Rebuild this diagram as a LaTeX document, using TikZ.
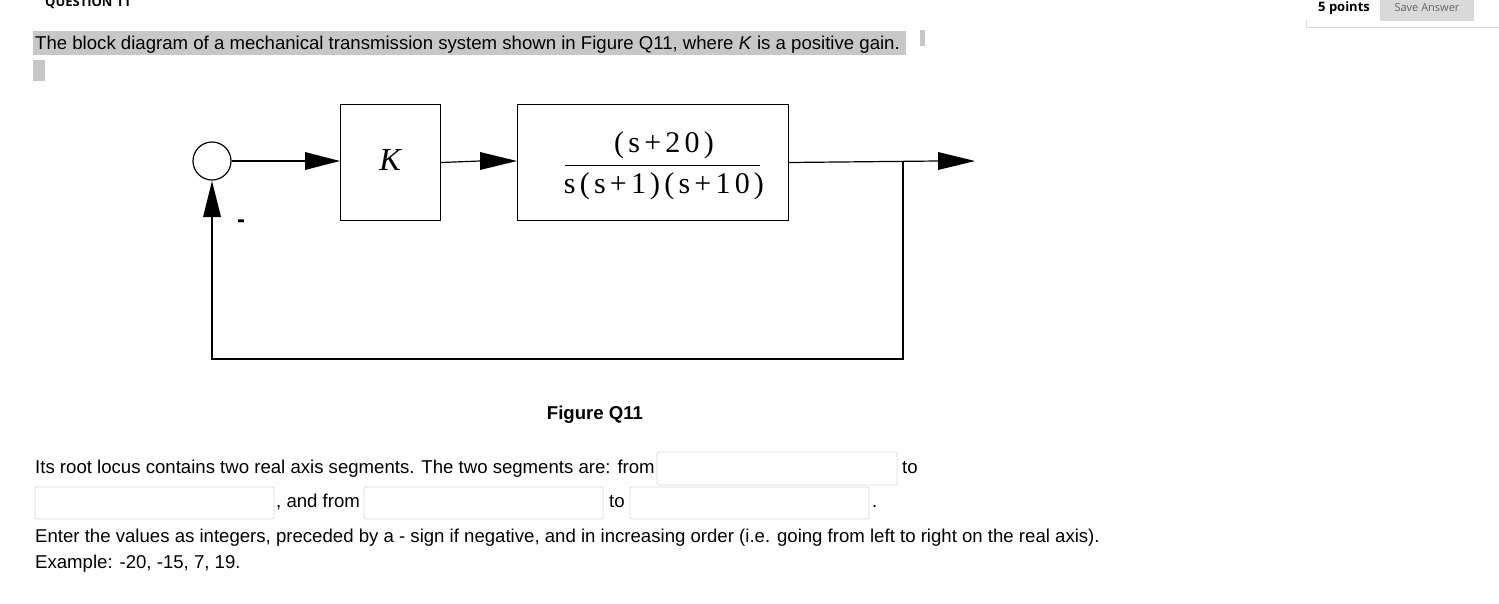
\documentclass[tikz,border=0pt]{standalone}
\usepackage{fontspec}
\setmainfont{Liberation Sans}
\newfontfamily\osans{Open Sans}
\newfontfamily\serifm[LetterSpace=14]{Liberation Serif}
\newfontfamily\serifk{Liberation Serif}
\begin{document}
\begin{tikzpicture}[x=1pt,y=-1pt,
  txt/.style={anchor=base west,inner sep=0pt,font=\fontsize{18.6}{20}\selectfont},
  blk/.style={draw,line width=1pt,anchor=north west,inner sep=0pt},
  inbox/.style={draw=black!15,line width=0.8pt,rounded corners=2pt},
  ln/.style={line width=1.2pt},
  tri/.style={fill=black}]
\useasboundingbox (0,0) rectangle (1499,603);
% header
\node[anchor=base west,inner sep=0pt,font=\osans\bfseries\fontsize{13}{15}\selectfont] (q) at (45,6) {QUESTION 11};
\draw[black!15] (1306,20) -- (1306,27) -- (1499,27);
\node[anchor=base west,inner sep=0pt,font=\osans\bfseries\fontsize{13}{15}\selectfont] (pts) at (1318,11) {5 points};
\fill[black!15] (1380,0) rectangle (1474,21);
\node[anchor=base,inner sep=0pt,font=\osans\fontsize{11}{13}\selectfont,text=black!60] (sa) at (1427,11) {Save Answer};
% highlighted intro
\fill[black!22] (33,31) rectangle (906,55);
\fill[black!22] (920,30) rectangle (925,46);
\fill[black!22] (33,60) rectangle (45,81);
\node[txt] (intro) at (35,49) {The block diagram of a mechanical transmission system shown in Figure Q11, where \textit{K} is a positive gain.};
% diagram
\node[draw,circle,line width=1.2pt,minimum size=38pt,inner sep=0pt] (sum) at (212,161) {};
\node[blk,minimum width=100pt,minimum height=116pt] (kb) at (340,104) {};
\node[font=\serifk\itshape\fontsize{32}{34}\selectfont] (kt) at (390,160) {K};
\node[blk,minimum width=271pt,minimum height=116pt] (gb) at (517,104) {};
\node[font=\serifm\fontsize{30}{32}\selectfont,inner sep=0pt] (num) at (664,145) {(s+20)};
\node[font=\serifm\fontsize{30}{32}\selectfont,inner sep=0pt] (den) at (664,186) {s(s+1)(s+10)};
\draw[line width=1pt] (565,165) -- (760,165);
\coordinate (a1) at (305,161);
\coordinate (a2) at (480,161);
\coordinate (a3) at (938,161);
\coordinate (br) at (903,161);
\coordinate (c1) at (903,359);
\coordinate (c2) at (212,359);
\coordinate (c3) at (212,217);
\draw[ln] (sum.east) -- (a1);
\fill[tri] (305,152) -- (340,161) -- (305,170) -- cycle;
\draw[ln] (kb.east) -- (a2);
\fill[tri] (480,152) -- (517,161) -- (480,170) -- cycle;
\draw[ln] (gb.east) -- (a3);
\fill[tri] (938,152) -- (975,161) -- (938,170) -- cycle;
\draw[ln] (br) -- (c1) -- (c2) -- (c3);
\fill[tri] (203,217) -- (212,181) -- (221,217) -- cycle;
\node[font=\bfseries\fontsize{24}{24}\selectfont] (minus) at (241,224) {-};
\node[anchor=base,inner sep=0pt,font=\bfseries\fontsize{18.6}{20}\selectfont] (fig) at (595,419) {Figure Q11};
% question text
\node[txt] (l1) at (35,473) {Its root locus contains two real axis segments. The two segments are: from};
\draw[inbox] (657,452) rectangle (897,485);
\node[txt] (to1) at (902,473) {to};
\draw[inbox] (35,487) rectangle (274,519);
\node[txt] (and) at (276,507) {, and from};
\draw[inbox] (364,487) rectangle (603,519);
\node[txt] (to2) at (609,507) {to};
\draw[inbox] (630,487) rectangle (869,519);
\node[txt] (dot) at (872,507) {.};
\node[txt] (l3) at (35,542) {Enter the values as integers, preceded by a - sign if negative, and in increasing order (i.e. going from left to right on the real axis).};
\node[txt] (l4) at (35,568) {Example: -20, -15, 7, 19.};
\end{tikzpicture}
\end{document}
